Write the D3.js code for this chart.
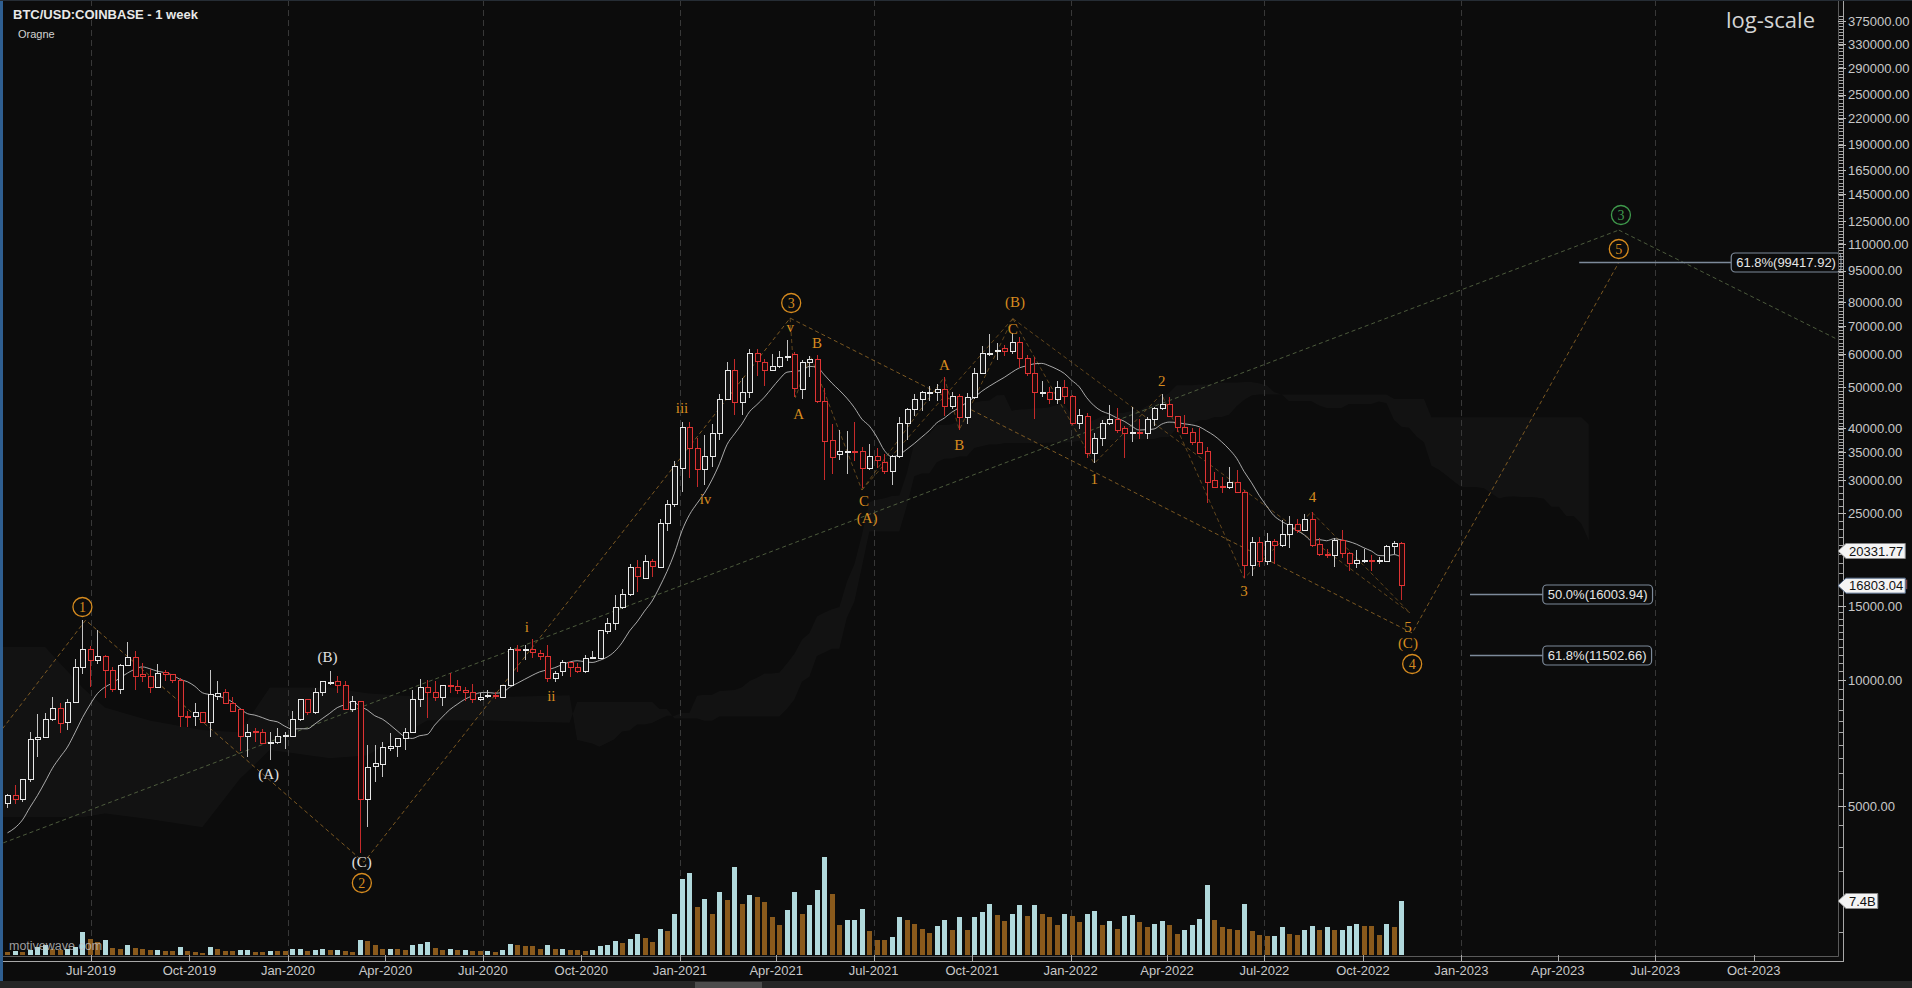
<!DOCTYPE html>
<html><head><meta charset="utf-8">
<script src="https://cdn.jsdelivr.net/npm/d3@7"></script>
<style>html,body{margin:0;padding:0;background:#0c0c0c;overflow:hidden}svg{display:block}</style>
</head><body>
<svg id="c" width="1912" height="988"></svg>
<script>
// ---------------- DATA ----------------
const weekStart = "2019-04-14";
const opens = [5080,5310,5190,5770,7200,7270,8040,8570,7900,8850,
10700,11800,11150,11350,10550,9470,10800,11300,10280,10170,
9620,10400,10330,9950,8200,8160,8340,7930,9150,9310,
8810,8480,7310,7530,7510,7060,7100,7310,7310,8030,
8960,8340,9360,9800,9890,9680,8480,8860,5170,6200,
6270,6850,6930,7230,7510,8960,9570,9360,9100,9690,
9670,9450,9360,8960,9140,9170,9100,9680,11850,11800,
11850,11600,11410,10110,10450,10980,10740,10450,11280,11280,
13080,13680,14860,15960,18600,17500,19150,18600,23700,26300,
32050,40000,35800,31750,34100,38850,46900,55000,45900,48500,
60400,57300,55000,56000,58900,59800,49300,57300,58400,46200,
37400,34500,35100,35200,35100,32000,34100,33100,31400,34100,
41100,44200,46700,48400,48600,49300,45000,47500,42300,47300,
54100,60100,60800,61800,61000,64000,58600,54100,48400,48600,
46700,49900,47500,41100,42600,34800,37800,41100,41800,39800,
38900,39000,38800,41800,44400,45400,42500,40000,39000,37000,
35100,29900,29000,28900,29700,28000,18800,21250,19150,21400,
21000,22300,23500,22800,24200,21100,19950,19800,21500,20100,
18950,19200,19300,19150,19200,20800,21200];
const highs = [5350,5620,5800,7500,8300,8350,9100,8820,9000,11200,
13880,12050,13180,11450,10750,10900,12330,11700,10950,10650,
10900,10540,10350,10100,8450,8820,8400,10540,9950,9520,
9100,8520,7860,7700,7650,7500,7700,7500,8450,9000,
8980,9550,9880,10510,10200,9970,9180,8900,6990,6990,
7100,7470,7250,7700,9460,10050,10000,9950,9740,10390,
9990,9600,9800,9300,9450,9350,9750,12000,12120,12100,
12500,11800,12100,10500,11150,11050,10950,11450,11700,13200,
14100,15950,16500,18950,19400,19900,19450,24300,26900,33300,
41400,41400,37850,38500,40900,48200,57500,58400,52700,61800,
61700,58400,60200,61200,64900,60700,58000,59500,59600,49800,
40900,39500,39400,41300,36100,36600,35900,34600,34500,42400,
44700,48100,49000,50500,51000,52900,48800,48300,48400,55700,
62900,67000,63700,63000,67400,66000,59800,59100,51900,50200,
51800,52100,47900,44400,43500,38900,41900,45400,44700,40400,
44900,42000,42400,44800,48200,47500,42700,42900,40000,40000,
36000,31400,30600,32300,31700,28500,21900,21900,22400,21700,
24100,24600,24200,24900,25200,21800,20600,21800,22800,20200,
20400,20500,19900,19700,21000,21500,21400];
const lows = [4950,5060,5100,5690,6550,7250,8000,7470,7600,8850,
10350,9600,10900,9050,9350,9250,10800,9460,9900,9330,
9600,9950,9860,7720,7720,7750,7880,7300,8950,8800,
8380,6750,6550,7100,7040,6440,7050,6850,7310,8000,
8250,8300,9150,9730,9300,8480,8400,3860,4450,5710,
5870,6770,6550,6800,7470,8600,8110,8900,8650,9310,
9250,8900,8800,8900,9050,9000,9050,9650,10450,11150,
11300,11150,9900,9900,10200,10150,10400,10400,11200,11250,
12900,13200,14750,15900,16200,17400,17600,18600,22700,25900,
28200,30400,28850,29200,32300,37400,46800,43000,43000,47100,
53200,50400,54800,55500,57800,47300,47000,53000,46000,30000,
31100,33500,31000,33300,28800,31800,32100,31050,29300,33900,
37400,42800,43900,46400,46500,42800,44300,39600,40800,47000,
53800,59500,58000,59400,60000,55600,53300,42000,47300,45600,
45600,45700,40600,39700,34000,32900,36300,40700,38900,34000,
37000,37600,37600,40500,44200,42400,39200,38600,36500,34700,
26500,28700,28000,28600,27900,17500,17700,18650,18800,18900,
20800,20700,22500,22700,20800,19800,19600,18600,19600,18200,
18500,19000,18200,18900,19150,20000,15500];
const closes = [5310,5190,5770,7200,7270,8040,8570,7880,8850,10700,
11800,11150,11350,10550,9470,10800,11300,10170,10170,9620,
10380,10330,9950,8200,8150,8340,7930,9230,9260,8810,
8390,7310,7510,7490,7040,7100,7310,7350,8030,8960,
8340,9360,9890,9880,9680,8480,8860,5170,6190,6300,
6880,6930,7230,7510,8960,9570,9360,9100,9680,9670,
9450,9360,8960,9100,9160,9150,9680,11850,11800,11850,
11650,11350,10110,10390,10980,10740,10450,11280,11320,13100,
13680,14860,15960,18600,17630,19150,18700,23700,26300,32400,
40000,35800,31750,34100,38850,46900,55000,45900,48500,60400,
57600,55000,56000,58900,59400,49700,57300,58400,46200,37100,
34000,35100,35200,35000,32000,34100,33500,31400,34100,41100,
44200,46700,48500,48600,49300,45000,47500,42300,47300,54100,
60100,60400,61300,61000,64000,58500,54100,48500,48600,46700,
49900,47500,41100,42800,34800,37800,41100,41800,39400,38900,
39000,38800,41800,44400,45400,42500,40200,38900,37000,34800,
29700,28900,28900,29700,28000,18800,21250,19150,21400,21000,
22300,23500,22800,24200,21000,19900,19850,21500,20100,18950,
19250,19300,19150,19250,20800,21200,16803.04];
const volumesB = [0.37,0.59,0.37,0.68,1.14,1.37,0.82,0.68,0.78,1.14,
3.1,2.15,1.83,2.05,1.0,0.82,1.37,0.91,0.78,0.68,
0.70,0.55,0.54,1.05,0.59,0.46,0.32,1.05,0.78,0.55,
0.54,0.68,0.69,0.46,0.37,0.55,0.54,0.53,0.82,0.83,
0.55,0.68,0.82,0.68,0.69,0.59,0.46,2.05,1.92,1.37,
0.82,0.83,0.78,0.68,1.37,1.51,1.74,1.0,0.68,0.78,
0.68,0.69,0.59,0.55,0.56,0.46,0.68,1.51,1.37,1.28,
1.23,0.82,1.37,0.82,0.83,0.68,0.67,0.59,0.68,1.3,
1.37,1.92,1.64,2.19,2.88,2.37,1.74,3.56,3.29,5.62,
10.4,11.3,6.53,7.67,5.62,8.58,7.53,12.0,6.99,8.22,
7.9,7.21,5.16,4.11,6.16,8.58,5.62,6.85,8.9,13.4,
8.36,4.11,4.79,4.8,6.3,3.29,2.05,2.0,2.42,5.16,
4.79,4.25,3.56,3.06,3.97,4.79,3.42,5.16,3.42,5.16,
5.84,6.99,5.48,4.66,5.62,6.85,5.34,6.85,5.62,5.16,
4.11,5.62,5.34,4.47,5.62,6.03,4.11,4.66,3.56,5.34,
5.48,4.47,3.79,4.25,4.66,4.11,2.88,3.42,4.11,4.93,
9.59,4.79,3.79,3.56,3.42,6.99,3.29,2.74,2.6,2.62,
3.79,2.88,2.74,3.42,3.97,3.42,3.79,3.42,3.45,3.97,
4.25,3.97,3.95,2.74,4.25,3.79,7.4];
const priorCloses = [3980,3800,3870,3940,4000,4020,4100,5050,5070];

// Ichimoku cloud before the computed window
const cloudEarlyDates = ["2019-04-07","2019-05-19","2019-06-23","2019-07-14","2019-08-25","2019-10-13","2019-11-17","2019-12-15","2020-02-09","2020-03-15","2020-05-10","2020-07-05","2020-09-20"];
const cloudEarlyUpper = [12000,12000,9600,8600,8000,7600,7500,9600,9600,9300,9100,9100,9200];
const cloudEarlyLower = [4700,4700,4700,4800,4650,4450,5800,6800,6500,6600,8000,8000,7900];

const priceTicks = [375000,330000,290000,250000,220000,190000,165000,145000,125000,110000,95000,80000,70000,60000,50000,40000,35000,30000,25000,15000,10000,5000];

// Elliott-wave labels
const waveText  = ["1","(A)","(B)","(C)","2","i","ii","iii","iv","3","v","A","B","C","(A)","A","B","(B)","C","1","2","3","4","5","(C)","4","3","5"];
const waveDate  = ["2019-06-23","2019-12-14","2020-02-07","2020-03-10","2020-03-10","2020-08-11","2020-09-03","2021-01-03","2021-01-25","2021-04-15","2021-04-14","2021-04-22","2021-05-09","2021-06-22","2021-06-25","2021-09-05","2021-09-19","2021-11-10","2021-11-08","2022-01-23","2022-03-27","2022-06-12","2022-08-15","2022-11-12","2022-11-12","2022-11-16","2023-05-30","2023-05-28"];
const wavePrice = [14940,5960,11350,3670,3274,13380,9160,44650,27060,79540,69700,43190,63830,26770,24380,56560,36420,79990,68940,30210,51790,16320,27360,13380,12260,10920,129080,107050];
const waveStyle = ["co","w","w","w","co","o","o","o","o","co","o","o","o","o","o","o","o","o","o","o","o","o","o","o","o","co","cg","co"];

// Wave connecting lines: [date, price] vertices
const primaryPath = [["2018-12-15",3150],["2019-06-26",13900],["2020-03-12",3670],["2021-04-14",73200],["2022-11-16",12950],["2023-05-28",99417.92]];
const minorPaths = [
  [["2021-04-14",73200],["2021-04-19",47300],["2021-05-03",59500],["2021-06-20",28430]],
  [["2021-06-20",28430],["2021-09-05",52900],["2021-09-19",39600],["2021-11-08",73000]],
  [["2021-11-08",73000],["2022-01-23",32900],["2022-03-27",48200],["2022-06-12",17500],["2022-08-14",25200],["2022-11-14",14460]],
  [["2021-06-20",28430],["2021-11-08",73000]],
  [["2021-11-08",73000],["2022-11-14",14460]]
];
const cyclePaths = [
  [["2018-12-15",3150],["2023-05-28",118800]],
  [["2023-05-28",118800],["2024-01-15",60000]]
];

// Fibonacci targets
const fibValues = [99417.92,16003.94,11502.66];
const fibText = ["61.8%(99417.92)","50.0%(16003.94)","61.8%(11502.66)"];
const fibStart = ["2023-04-21","2023-01-09","2023-01-09"];
const fibEnd = ["2023-09-10","2023-03-18","2023-03-18"];

const maLastValue = 20331.77;
const lastPrice = 16803.04;
const lastVolume = 7.4;

// ---------------- CHART ----------------
const svg = d3.select("#c");
const parse = d3.utcParse("%Y-%m-%d");
const x = d3.scaleUtc().domain([parse("2019-07-01"), parse("2023-10-01")]).range([91, 1753.7]);
const y = d3.scaleLog().domain([5000, 375000]).range([806, 21.1]);
const yv = d3.scaleLinear().domain([0, 7.4]).range([955, 901]);
const t0 = parse(weekStart);
const n = closes.length;
const dates = d3.range(n).map(i => d3.utcDay.offset(t0, 7 * i));
const PR = 1838, PB = 956;
const sans = "'Liberation Sans', Arial, sans-serif";
const serif = "'Liberation Serif', 'DejaVu Serif', serif";

svg.append("rect").attr("width", 1912).attr("height", 988).attr("fill", "#0c0c0c");
svg.append("defs").append("clipPath").attr("id", "plot").append("rect").attr("x", 3).attr("y", 0).attr("width", PR - 3).attr("height", PB);
const plot = svg.append("g").attr("clip-path", "url(#plot)");

// Ichimoku cloud
function mid(i, len) { let hh = -Infinity, ll = Infinity; for (let k = i - len + 1; k <= i; k++) { hh = Math.max(hh, highs[k]); ll = Math.min(ll, lows[k]); } return (hh + ll) / 2; }
const cloud = cloudEarlyDates.map((d, i) => ({ date: parse(d), a: cloudEarlyUpper[i], b: cloudEarlyLower[i] }));
for (let j = 51; j < n; j++) {
  cloud.push({ date: d3.utcDay.offset(t0, 7 * (j + 25)), a: (mid(j, 9) + mid(j, 26)) / 2, b: mid(j, 52) });
}
plot.append("path").datum(cloud)
  .attr("d", d3.area().x(d => x(d.date)).y0(d => y(d.a)).y1(d => y(d.b)))
  .attr("fill", "#ffffff").attr("fill-opacity", 0.027);

// vertical dashed grid (Jan / Jul)
const qTicks = d3.utcMonths(parse("2019-07-01"), parse("2023-10-02"), 3);
plot.selectAll(".vg").data(qTicks.filter(d => d.getUTCMonth() % 6 === 0)).join("line")
  .attr("x1", d => Math.round(x(d)) + 0.5).attr("x2", d => Math.round(x(d)) + 0.5)
  .attr("y1", 0).attr("y2", PB).attr("stroke", "#383838").attr("stroke-dasharray", "6,4");

// volume
const volG = plot.append("g").attr("shape-rendering", "crispEdges");
volG.selectAll("rect").data(volumesB).join("rect")
  .attr("x", (d, i) => Math.round(x(dates[i])) - 2).attr("width", 5)
  .attr("y", d => yv(d)).attr("height", d => yv(0) - yv(d))
  .attr("fill", (d, i) => (i > 0 && d >= volumesB[i - 1]) ? "#b1d9dc" : "#8a5a1c");

// wave lines
const wl = d3.line().x(d => x(parse(d[0]))).y(d => y(d[1]));
plot.append("path").attr("d", wl(primaryPath)).attr("fill", "none").attr("stroke", "#a0722a").attr("stroke-opacity", 0.75).attr("stroke-dasharray", "4,3");
minorPaths.forEach(p => plot.append("path").attr("d", wl(p)).attr("fill", "none").attr("stroke", "#9a6c28").attr("stroke-opacity", 0.6).attr("stroke-dasharray", "4,3"));
cyclePaths.forEach(p => plot.append("path").attr("d", wl(p)).attr("fill", "none").attr("stroke", "#5d6e48").attr("stroke-opacity", 0.8).attr("stroke-dasharray", "4,3"));

// moving average (10)
const allCloses = priorCloses.concat(closes);
const ma = closes.map((c, i) => d3.mean(allCloses.slice(i, i + 10)));
plot.append("path").datum(ma).attr("d", d3.line().x((d, i) => x(dates[i])).y(d => y(d)).curve(d3.curveMonotoneX))
  .attr("fill", "none").attr("stroke", "#d0d0d0").attr("stroke-opacity", 0.8).attr("stroke-width", 1);

// candles
const cG = plot.append("g").attr("shape-rendering", "crispEdges");
const cand = cG.selectAll("g").data(d3.range(n)).join("g");
cand.append("line")
  .attr("x1", i => Math.round(x(dates[i])) + 0.5).attr("x2", i => Math.round(x(dates[i])) + 0.5)
  .attr("y1", i => y(highs[i])).attr("y2", i => y(lows[i]))
  .attr("stroke", i => closes[i] >= opens[i] ? "#c4c4c4" : "#c52a2a");
cand.append("rect")
  .attr("x", i => Math.round(x(dates[i])) - 2 + 0.5).attr("width", 5)
  .attr("y", i => y(Math.max(opens[i], closes[i])))
  .attr("height", i => Math.max(1, y(Math.min(opens[i], closes[i])) - y(Math.max(opens[i], closes[i]))))
  .attr("fill", i => closes[i] >= opens[i] ? "#161616" : "#1c0909")
  .attr("stroke", i => closes[i] >= opens[i] ? "#e8e8e8" : "#e03434");

// wave labels
const colors = { o: "#d68b1f", co: "#d68b1f", w: "#e2e2e2", cg: "#3f9a4c" };
waveText.forEach((t, i) => {
  const px = x(parse(waveDate[i])), py = y(wavePrice[i]);
  const st = waveStyle[i];
  if (st === "co" || st === "cg") {
    plot.append("circle").attr("cx", px).attr("cy", py).attr("r", 9.5).attr("fill", "none").attr("stroke", colors[st]).attr("stroke-width", 1.3);
    plot.append("text").attr("x", px).attr("y", py).attr("dy", "0.35em").attr("text-anchor", "middle")
      .attr("font-family", serif).attr("font-size", 14).attr("fill", colors[st]).text(t);
  } else {
    plot.append("text").attr("x", px).attr("y", py).attr("dy", "0.35em").attr("text-anchor", "middle")
      .attr("font-family", serif).attr("font-size", 15).attr("fill", colors[st]).text(t);
  }
});

// fib lines and boxes
const fibG = svg.append("g");
fibValues.forEach((v, i) => {
  const x1 = x(parse(fibStart[i]));
  const x2 = x(parse(fibEnd[i]));
  const py = Math.round(y(v)) + 0.5;
  fibG.append("line").attr("x1", x1).attr("x2", x2).attr("y1", py).attr("y2", py)
    .attr("stroke", "#7d8a9a").attr("stroke-width", 1.5);
  const tx = fibG.append("text").attr("x", x2 + 5).attr("y", py).attr("dy", "0.36em")
    .attr("font-family", sans).attr("font-size", 13).attr("fill", "#e6e6e6").text(fibText[i]);
  const w = tx.node().getComputedTextLength();
  fibG.insert("rect", "text").attr("x", x2).attr("y", py - 9.5).attr("width", w + 10).attr("height", 19).attr("rx", 4)
    .attr("fill", "#0c0c0c").attr("stroke", "#7d8a9a").attr("stroke-width", 1.2);
});

// frames
svg.append("line").attr("x1", 3).attr("x2", PR + 0.5).attr("y1", PB + 0.5).attr("y2", PB + 0.5).attr("stroke", "#5a5a5a");
svg.append("line").attr("x1", PR + 0.5).attr("x2", PR + 0.5).attr("y1", 0).attr("y2", PB + 0.5).attr("stroke", "#5a5a5a");
svg.append("line").attr("x1", 3).attr("x2", 1844).attr("y1", 961.5).attr("y2", 961.5).attr("stroke", "#a8a8a8");
svg.append("line").attr("x1", 1843.5).attr("x2", 1843.5).attr("y1", 0).attr("y2", 962).attr("stroke", "#a8a8a8");

// right axis ticks
const minorVals = [];
for (let v = 3500; v < 15000; v += 500) minorVals.push(v);
for (let v = 15000; v < 30000; v += 1000) minorVals.push(v);
for (let py = y(30000); py > 16; py -= 3.2) minorVals.push(y.invert(py));
svg.append("g").attr("shape-rendering", "crispEdges").selectAll("line").data(minorVals).join("line")
  .attr("x1", 1839).attr("x2", 1843).attr("y1", d => Math.round(y(d)) + 0.5).attr("y2", d => Math.round(y(d)) + 0.5)
  .attr("stroke", "#a8a8a8");
svg.append("g").attr("shape-rendering", "crispEdges").selectAll("line").data(priceTicks).join("line")
  .attr("x1", 1838).attr("x2", 1846).attr("y1", d => Math.round(y(d)) + 0.5).attr("y2", d => Math.round(y(d)) + 0.5)
  .attr("stroke", "#b8b8b8");
svg.append("line").attr("x1", 1839).attr("x2", 1843).attr("y1", Math.round(yv(3.2)) + 0.5).attr("y2", Math.round(yv(3.2)) + 0.5).attr("stroke", "#a8a8a8");
svg.selectAll(".pt").data(priceTicks).join("text")
  .attr("x", 1848).attr("y", d => y(d)).attr("dy", "0.36em")
  .attr("font-family", sans).attr("font-size", 13).attr("fill", "#c8c8c8")
  .text(d => d3.format(".2f")(d));

// x axis
svg.selectAll(".xt").data(qTicks).join("line")
  .attr("x1", d => Math.round(x(d)) + 0.5).attr("x2", d => Math.round(x(d)) + 0.5)
  .attr("y1", 955).attr("y2", 962).attr("stroke", "#a8a8a8");
svg.selectAll(".xl").data(qTicks).join("text")
  .attr("x", d => x(d)).attr("y", 975).attr("text-anchor", "middle")
  .attr("font-family", sans).attr("font-size", 13).attr("fill", "#c8c8c8")
  .text(d3.utcFormat("%b-%Y"));

// right-side value markers
function marker(py, txt, opts) {
  const g = svg.append("g");
  const path = g.append("path");
  const t = g.append("text").attr("x", 1849).attr("y", py).attr("dy", "0.36em")
    .attr("font-family", sans).attr("font-size", 13).attr("fill", "#111").text(txt);
  const w = t.node().getComputedTextLength() + 5;
  if (opts.shadow) g.insert("rect", "path").attr("x", 1846).attr("y", py - 6).attr("width", w + 2).attr("height", 9.5).attr("fill", "#7a4444");
  path.attr("d", `M1838,${py} L1846,${py - 7.5} L${1846 + w},${py - 7.5} L${1846 + w},${py + 7.5} L1846,${py + 7.5} Z`)
    .attr("fill", "#f4f4f4").attr("stroke", opts.stroke).attr("stroke-width", 1);
}
marker(y(maLastValue), d3.format(".2f")(maLastValue), { stroke: "#8a8a8a" });
marker(y(lastPrice), d3.format(".2f")(lastPrice), { stroke: "#5a7190", shadow: true });
marker(yv(lastVolume), lastVolume + "B", { stroke: "#8a8a8a" });

// texts
svg.append("text").attr("x", 13).attr("y", 19).attr("font-family", sans).attr("font-weight", "bold").attr("font-size", 13).attr("fill", "#e8e8e8").text("BTC/USD:COINBASE - 1 week");
svg.append("text").attr("x", 18).attr("y", 37.5).attr("font-family", sans).attr("font-size", 11).attr("fill", "#d2d2d2").text("Oragne");
svg.append("text").attr("x", 1815).attr("y", 28).attr("text-anchor", "end").attr("font-family", "'Open Sans', 'Noto Sans', sans-serif").attr("font-size", 22).attr("fill", "#d4d4d4").text("log-scale");
svg.append("text").attr("x", 9).attr("y", 950).attr("font-family", sans).attr("font-size", 12.5).attr("fill", "#c4c4c4").attr("fill-opacity", 0.8).text("motivewave.com");

// chrome
svg.append("rect").attr("x", 0).attr("y", 0).attr("width", 3).attr("height", 981).attr("fill", "#2f5f91");
svg.append("rect").attr("x", 0).attr("y", 981).attr("width", 1912).attr("height", 7).attr("fill", "#262626");
svg.append("rect").attr("x", 695).attr("y", 982).attr("width", 67).attr("height", 6).attr("fill", "#4c4c4c");
svg.append("line").attr("x1", 0).attr("x2", 1912).attr("y1", 0.5).attr("y2", 0.5).attr("stroke", "#262d35");
</script>
</body></html>
